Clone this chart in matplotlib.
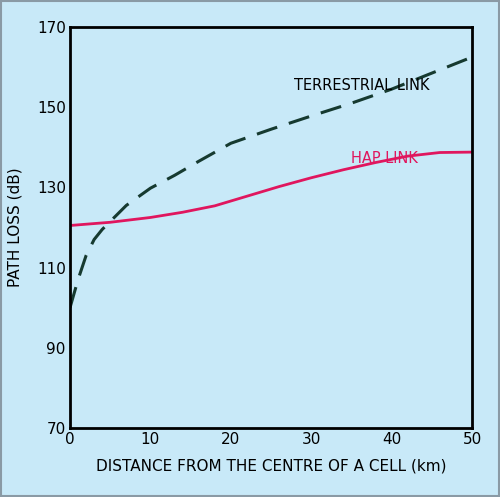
import matplotlib
matplotlib.use("Agg")
import matplotlib.pyplot as plt

terr_x = [0, 1, 2, 3, 4, 5, 7, 10, 13, 16, 20, 25, 30, 35, 40, 45, 50]
terr_y = [100, 107, 113, 117, 119.5, 121.5, 125.5, 129.8, 133, 136.5, 141, 144.5, 147.8, 151, 154.5, 158.5, 162.5]
hap_x = [0, 5, 10, 14, 18, 22, 26, 30, 34, 38, 42, 46, 50]
hap_y = [120.5, 121.3, 122.5, 123.8, 125.4, 127.8, 130.2, 132.4, 134.4, 136.2, 137.8, 138.7, 138.8]
xticks = [0, 10, 20, 30, 40, 50]
yticks = [70, 90, 110, 130, 150, 170]

bg = "#c8e9f8"
fig = plt.figure(figsize=(5.0, 4.97), dpi=100, facecolor=bg)
fig.patches.append(plt.Rectangle((0.002, 0.002), 0.996, 0.996, transform=fig.transFigure,
                                 fill=False, edgecolor="#8a9aa5", lw=1.5))
ax = fig.add_axes([70/500, 1-428/497, 402/500, 401/497])
ax.set_facecolor(bg)
ax.plot(terr_x, terr_y, color="#163a30", lw=2.2, dashes=(7, 4))
ax.plot(hap_x, hap_y, color="#e0165e", lw=2.0)
ax.set_xlim(0, 50)
ax.set_ylim(70, 170)
ax.set_xticks(xticks)
ax.set_yticks(yticks)
ax.tick_params(length=0, labelsize=11, pad=3)
for s in ax.spines.values():
    s.set_linewidth(2)
ax.set_xlabel("DISTANCE FROM THE CENTRE OF A CELL (km)", fontsize=11, labelpad=8)
ax.set_ylabel("PATH LOSS (dB)", fontsize=11, labelpad=10)
ax.text(27.8, 155.3, "TERRESTRIAL LINK", fontsize=10.5, va="center")
ax.text(35, 137.2, "HAP LINK", fontsize=10.5, va="center", color="#e0165e")
fig.savefig("out.png", dpi=100, facecolor=bg)
